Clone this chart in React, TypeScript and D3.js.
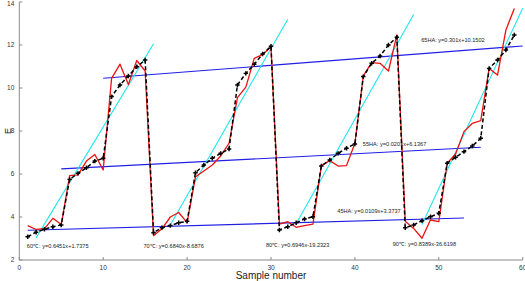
import React, { useEffect } from 'react';
import * as d3 from 'd3';

// sample numbers 1..59
const samples = d3.range(1, 60);

// measured E (red)
const measured = [
  3.60, 3.42, 3.46, 3.94, 3.65, 5.92, 5.96, 6.60, 6.91, 6.19, 10.45, 11.11, 10.16, 11.28, 10.79,
  3.13, 3.45, 4.00, 4.21, 3.74, 5.87, 6.14, 6.42, 6.84, 7.43, 9.55, 10.04, 11.38, 11.55, 11.92,
  3.67, 3.78, 3.52, 3.60, 3.67, 6.39, 6.62, 6.37, 6.39, 7.43, 10.56, 11.18, 11.15, 10.79, 12.47,
  3.80, 3.47, 3.01, 3.86, 3.78, 6.50, 6.93, 7.97, 8.36, 8.48, 10.91, 10.60, 12.70, 13.70,
];

// predicted E (black dashed)
const predicted = [
  3.08, 3.29, 3.43, 3.55, 3.63, 5.75, 6.03, 6.29, 6.60, 6.73, 9.60, 10.14, 10.56, 10.99, 11.30,
  3.27, 3.50, 3.60, 3.73, 3.80, 6.06, 6.42, 6.73, 6.96, 7.16, 10.14, 10.68, 11.10, 11.58, 11.94,
  3.40, 3.55, 3.73, 3.91, 4.01, 6.37, 6.65, 6.96, 7.20, 7.40, 10.53, 11.15, 11.49, 12.00, 12.36,
  3.50, 3.63, 3.83, 4.01, 4.17, 6.50, 6.78, 7.04, 7.30, 7.66, 10.91, 11.30, 11.77, 12.47,
];

// temperature fits (cyan)
const tempSlopes = [0.6451, 0.6840, 0.6946, 0.8389];
const tempIntercepts = [1.7375, -8.6876, -19.2323, -36.6198];
const tempRanges = [[2, 16], [18, 32], [33, 47], [48, 60]];
const tempLabels = [
  '60℃: y=0.6451x+1.7375',
  '70℃: y=0.6840x-8.6876',
  '80℃: y=0.6946x-19.2323',
  '90℃: y=0.8389x-36.6198',
];
const tempLabelPos = [[0.9, 2.56], [14.8, 2.57], [29.4, 2.62], [44.5, 2.67]];

// HA fits (blue)
const haSlopes = [0.0109, 0.0201, 0.0301];
const haIntercepts = [3.3737, 6.1367, 10.1502];
const haRanges = [[1, 53], [5, 55], [10, 60]];
const haLabels = [
  '45HA: y=0.0109x+3.3737',
  '55HA: y=0.0201x+6.1367',
  '65HA: y=0.301x+10.1502',
];
const haLabelPos = [[37.9, 4.18], [40.95, 7.32], [47.9, 12.12]];

const xTicks = [0, 10, 20, 30, 40, 50, 60];
const yTicks = [2, 4, 6, 8, 10, 12, 14];

const W = 525;
const H = 281;

function App() {
  useEffect(() => {
    document.body.style.margin = '0';
  }, []);

  const x = d3.scaleLinear().domain([0, 60]).range([19.3, 522.7]);
  const y = d3.scaleLinear().domain([2, 14]).range([260, 2]);

  const line = d3.line<number>()
    .x((_, i) => x(samples[i]))
    .y((d) => y(d));

  const star = d3.symbol().type(d3.symbolCross).size(11);
  const axisColor = '#8a8a8a';
  const font = 'Arial, "Liberation Sans", sans-serif';

  return (
    <svg width={W} height={H} style={{ display: 'block', fontFamily: font }}>
      {/* axes */}
      <line x1={x(0)} x2={x(0)} y1={y(14)} y2={y(2)} stroke={axisColor} strokeWidth={1} />
      <line x1={x(0)} x2={x(60)} y1={y(2)} y2={y(2)} stroke={axisColor} strokeWidth={1} />
      {yTicks.map((t) => (
        <g key={'y' + t}>
          <line x1={x(0)} x2={x(0) + 3} y1={y(t)} y2={y(t)} stroke={axisColor} />
          {/* keep the top label inside the picture */}
          <text x={x(0) - 5} y={Math.max(y(t), 3.5)} dy="0.35em" textAnchor="end" fontSize={6.5} fill="#333">{t}</text>
        </g>
      ))}
      {xTicks.map((t) => (
        <g key={'x' + t}>
          <line x1={x(t)} x2={x(t)} y1={y(2)} y2={y(2) - 3} stroke={axisColor} />
          <text x={x(t)} y={y(2) + 10} textAnchor="middle" fontSize={6.5} fill="#333">{t}</text>
        </g>
      ))}
      <text x={x(30)} y={279} textAnchor="middle" fontSize={10} fill="#222">Sample number</text>
      <text transform={`translate(11, ${y(8)}) rotate(-90)`} textAnchor="middle" fontSize={9} fill="#222">E</text>

      {/* HA fits */}
      {haSlopes.map((s, i) => (
        <line key={'ha' + i}
          x1={x(haRanges[i][0])} y1={y(s * haRanges[i][0] + haIntercepts[i])}
          x2={x(haRanges[i][1])} y2={y(s * haRanges[i][1] + haIntercepts[i])}
          stroke="#1f1fe6" strokeWidth={1.1} />
      ))}

      {/* temperature fits */}
      {tempSlopes.map((s, i) => (
        <line key={'t' + i}
          x1={x(tempRanges[i][0])} y1={y(s * tempRanges[i][0] + tempIntercepts[i])}
          x2={x(tempRanges[i][1])} y2={y(s * tempRanges[i][1] + tempIntercepts[i])}
          stroke="#22e6ee" strokeWidth={1.1} />
      ))}

      {/* measured */}
      <path d={line(measured) ?? ''} fill="none" stroke="#ee1111" strokeWidth={1.3} strokeLinejoin="round" />

      {/* predicted */}
      <path d={line(predicted) ?? ''} fill="none" stroke="#000" strokeWidth={1.5} strokeDasharray="4,2.5" />
      {predicted.map((v, i) => (
        <path key={'m' + i} d={star() ?? ''} transform={`translate(${x(samples[i])}, ${y(v)})`} fill="#000" />
      ))}

      {/* labels */}
      {tempLabels.map((l, i) => (
        <text key={'tl' + i} x={x(tempLabelPos[i][0])} y={y(tempLabelPos[i][1])} fontSize={5.6} fill="#222">{l}</text>
      ))}
      {haLabels.map((l, i) => (
        <text key={'hl' + i} x={x(haLabelPos[i][0])} y={y(haLabelPos[i][1])} fontSize={5.6} fill="#222">{l}</text>
      ))}
    </svg>
  );
}

export default App;
